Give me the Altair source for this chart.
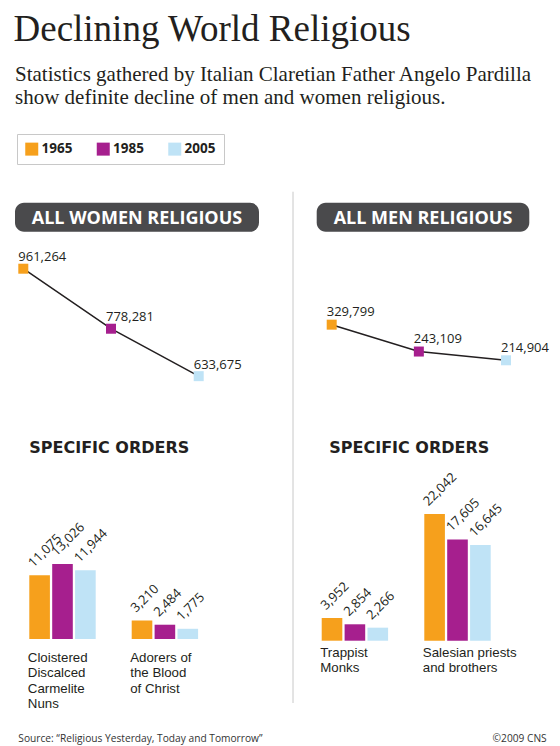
import altair as alt
import pandas as pd

# ---------------- data ----------------
YEARS = [1965, 1985, 2005]
COLORS = ["#f6a01c", "#a61f8e", "#bfe3f6"]

WOMEN_TOTAL = [961264, 778281, 633675]
MEN_TOTAL = [329799, 243109, 214904]

WOMEN_ORDERS = ["Cloistered\nDiscalced\nCarmelite\nNuns", "Adorers of\nthe Blood\nof Christ"]
WOMEN_ORDER_VALUES = [[11075, 13026, 11944], [3210, 2484, 1775]]
MEN_ORDERS = ["Trappist\nMonks", "Salesian priests\nand brothers"]
MEN_ORDER_VALUES = [[3952, 2854, 2266], [22042, 17605, 16645]]

TITLE = "Declining World Religious"
SUBTITLE_LINES = [
    "Statistics gathered by Italian Claretian Father Angelo Pardilla",
    "show definite decline of men and women religious.",
]
HEAD_WOMEN = "ALL WOMEN RELIGIOUS"
HEAD_MEN = "ALL MEN RELIGIOUS"
SUBHEAD = "SPECIFIC ORDERS"
SOURCE = "Source: \u201cReligious Yesterday, Today and Tomorrow\u201d"
CREDIT = "\u00a92009 CNS"

INK = "#231f20"
BOX = "#4a4a4c"
SANS = "Open Sans"

# ---------------- helpers ----------------
def txt(s, x, y, size, font=SANS, weight="normal", color=INK, align="left", **kw):
    return alt.Chart(pd.DataFrame({"t": [s]})).mark_text(
        align=align, baseline="alphabetic", font=font, fontSize=size,
        fontWeight=weight, color=color, **kw
    ).encode(x=alt.value(x), y=alt.value(y), text="t:N")


def box(x0, x1, y0, y1):
    return alt.Chart(pd.DataFrame({"t": [0]})).mark_rect(
        cornerRadius=9, color=BOX
    ).encode(x=alt.value(x0), x2=alt.value(x1), y=alt.value(y0), y2=alt.value(y1))


LEGEND = alt.Legend(
    title=None, orient="none", legendX=9, legendY=126, direction="horizontal",
    symbolType="square", symbolSize=169, symbolStrokeWidth=0, symbolOpacity=1,
    labelFont=SANS, labelFontSize=13.5, labelFontWeight="bold", labelColor=INK,
    labelOffset=3, columnPadding=23.5, padding=8, strokeColor="#c8c8c8",
)


def color_enc():
    return alt.Color("year:O", scale=alt.Scale(domain=YEARS, range=COLORS), legend=LEGEND)


def total_panel(values, xr, ydom, yr, label_dy):
    df = pd.DataFrame({"year": YEARS, "value": values})
    base = alt.Chart(df).encode(
        x=alt.X("year:Q", scale=alt.Scale(domain=[1965, 2005], range=xr), axis=None),
        y=alt.Y("value:Q", scale=alt.Scale(domain=ydom, range=yr, zero=False, nice=False), axis=None),
    )
    line = base.mark_line(color=INK, strokeWidth=1.5)
    pts = base.mark_square(size=100, opacity=1).encode(color=color_enc())
    lbl = base.mark_text(
        align="left", baseline="alphabetic", dx=-5, dy=label_dy, font=SANS,
        fontSize=13, color=INK
    ).encode(text=alt.Text("value:Q", format=","))
    return alt.layer(line, pts, lbl)


def orders_panel(orders, values, xr, yr, cat_y, cat_lh):
    rows = []
    for o, vals in zip(orders, values):
        for yv, v in zip(YEARS, vals):
            rows.append({"order": o, "year": yv, "value": v})
    df = pd.DataFrame(rows)
    xs = alt.Scale(domain=orders, range=xr, paddingInner=0, paddingOuter=0)
    xo = alt.XOffset("year:O", scale=alt.Scale(domain=YEARS, range=[0, 66.4], paddingInner=0.1, paddingOuter=0))
    ys = alt.Scale(domain=[0, 25000], range=yr, nice=False)
    base = alt.Chart(df).encode(
        x=alt.X("order:N", scale=xs, axis=None),
        xOffset=xo,
        y=alt.Y("value:Q", scale=ys, axis=None),
    )
    bars = base.mark_bar(opacity=1).encode(color=color_enc())
    vals = base.mark_text(
        angle=315, align="left", baseline="alphabetic", dx=1.0, dy=-9.5,
        font=SANS, fontSize=13, color=INK
    ).encode(text=alt.Text("value:Q", format=","))
    cats = alt.Chart(pd.DataFrame({"order": orders})).mark_text(
        align="left", baseline="alphabetic", dx=-1.5, font="Liberation Sans", fontSize=13.3,
        color=INK, lineBreak="\n", lineHeight=cat_lh
    ).encode(
        x=alt.X("order:N", scale=xs, axis=None, bandPosition=0),
        y=alt.value(cat_y),
        text="order:N",
    )
    return alt.layer(bars, vals, cats)


# ---------------- pieces ----------------
title = txt(TITLE, 5.5, 33, 37, font="Liberation Serif")
subtitle = txt("\n".join(SUBTITLE_LINES), 7, 73, 21, font="Liberation Serif",
               lineBreak="\n", lineHeight=23.3)

divider = alt.Chart(pd.DataFrame({"t": [0]})).mark_rule(color="#c8c8c8", strokeWidth=1).encode(
    x=alt.value(285), y=alt.value(183.7), y2=alt.value(695)
)

box_w = box(7, 251, 194.7, 223.7)
box_m = box(308.7, 521.3, 194.7, 223.7)
head_w = txt(HEAD_WOMEN, 129, 216.3, 18, weight="bold", color="white", align="center")
head_m = txt(HEAD_MEN, 415, 216.3, 18, weight="bold", color="white", align="center")

spec_l = txt(SUBHEAD, 21.3, 444.7, 16, font="DejaVu Sans", weight="bold")
spec_r = txt(SUBHEAD, 321.3, 444.7, 16, font="DejaVu Sans", weight="bold")

source = txt(SOURCE, 10.3, 733.7, 10.2, color="#333333")
credit = txt(CREDIT, 538.7, 733.7, 10.2, color="#333333", align="right")

women = total_panel(WOMEN_TOTAL, [15.3, 190.7], [600000, 1000000], [379.2, 248.0], -7.5)
men = total_panel(MEN_TOTAL, [323.7, 498.0], [200000, 350000], [356.9, 310.4], -8.5)

left_orders = orders_panel(WOMEN_ORDERS, WOMEN_ORDER_VALUES, [21.3, 226.1], [631.0, 487.25], 653.7, 15.6)
right_orders = orders_panel(MEN_ORDERS, MEN_ORDER_VALUES, [313.7, 518.9], [632.7, 488.95], 649.3, 15.0)

chart = alt.layer(
    title, subtitle, divider, box_w, box_m, head_w, head_m,
    spec_l, spec_r, source, credit,
    women, men, left_orders, right_orders,
).resolve_scale(
    x="independent", y="independent", xOffset="independent"
).properties(
    width=544, height=738, padding=0,
    autosize=alt.AutoSizeParams(type="none"),
    background="white",
).configure_view(stroke=None)

chart.save("out.html", embed_options={"renderer": "svg", "actions": False})
